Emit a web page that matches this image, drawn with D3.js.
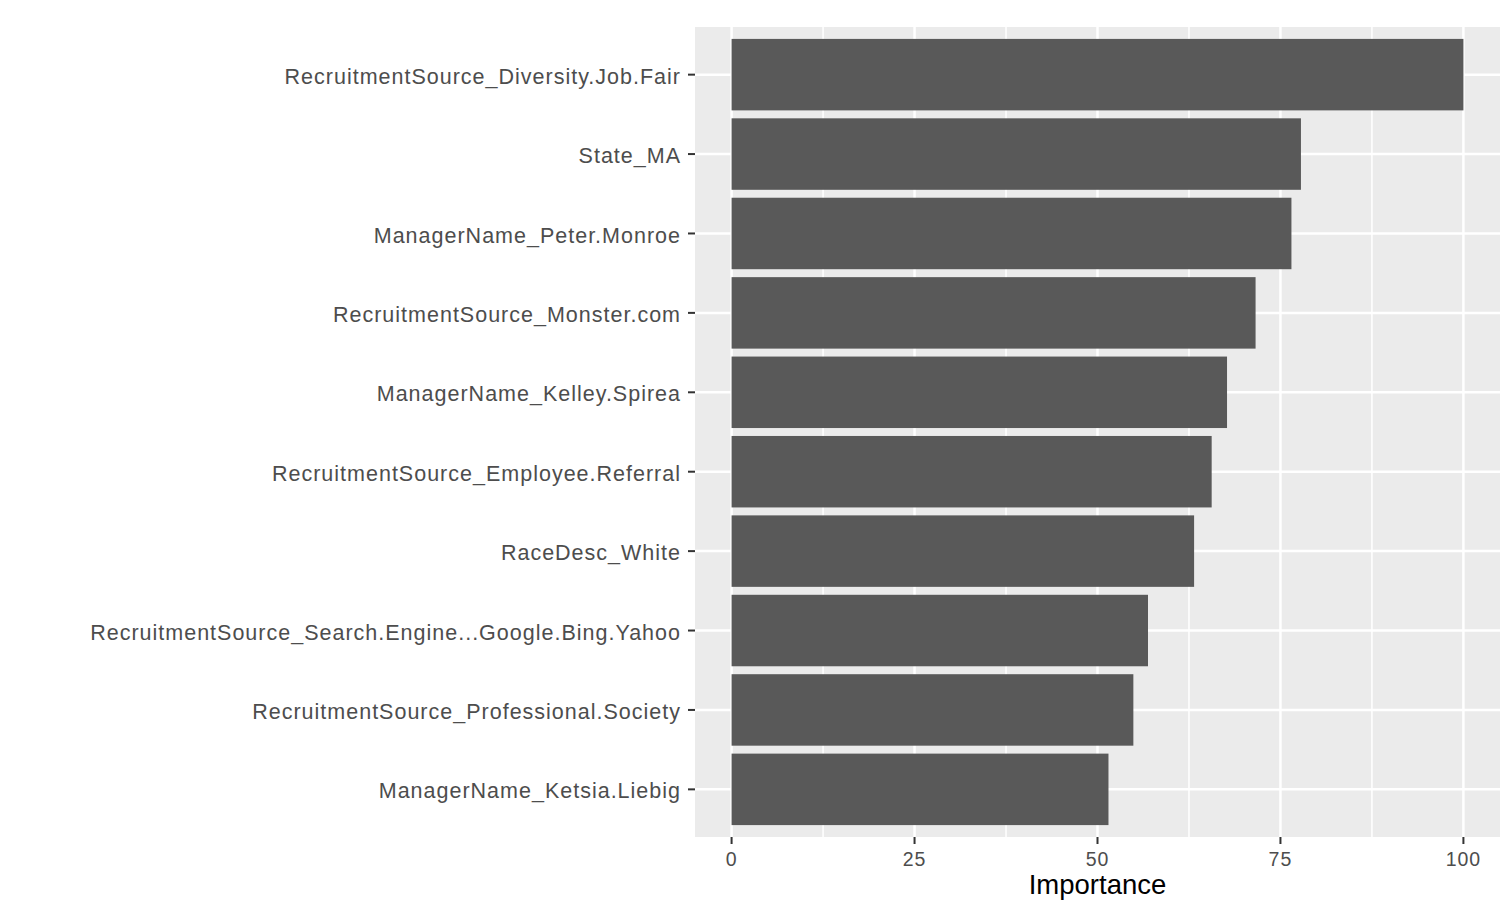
<!DOCTYPE html>
<html>
<head>
<meta charset="utf-8">
<script src="https://cdn.jsdelivr.net/npm/d3@7"></script>
<style>
  body { margin: 0; background: #fff; }
  svg text { font-family: "Liberation Sans", Arial, sans-serif; }
</style>
</head>
<body>
<svg id="chart" width="1512" height="911"></svg>
<script>
// features, top to bottom
var features = [
  "RecruitmentSource_Diversity.Job.Fair",
  "State_MA",
  "ManagerName_Peter.Monroe",
  "RecruitmentSource_Monster.com",
  "ManagerName_Kelley.Spirea",
  "RecruitmentSource_Employee.Referral",
  "RaceDesc_White",
  "RecruitmentSource_Search.Engine...Google.Bing.Yahoo",
  "RecruitmentSource_Professional.Society",
  "ManagerName_Ketsia.Liebig"
];
var importance = [100, 77.8, 76.5, 71.6, 67.7, 65.6, 63.2, 56.9, 54.9, 51.5];
var xTicks = [0, 25, 50, 75, 100];
var xMinor = [12.5, 37.5, 62.5, 87.5];

var margin = { top: 27, right: 12, bottom: 74, left: 695 };
var width = 1512 - margin.left - margin.right;
var height = 911 - margin.top - margin.bottom;

var svg = d3.select("#chart");
var g = svg.append("g").attr("transform", "translate(" + margin.left + "," + margin.top + ")");

// ggplot style expansion: 5% on the continuous axis
var x = d3.scaleLinear().domain([-5, 105]).range([0, width]);

// discrete axis: 0.6 units expand each side, bar width 0.9
var step = height / (features.length - 1 + 1.2);
var y = function(i) { return (0.6 + i) * step; };

g.append("rect").attr("width", width).attr("height", height).attr("fill", "#EBEBEB");

// minor grid
g.selectAll(".minor").data(xMinor).enter().append("line")
  .attr("x1", d => x(d)).attr("x2", d => x(d))
  .attr("y1", 0).attr("y2", height)
  .attr("stroke", "#fff").attr("stroke-width", 1.5);

// major grid
g.selectAll(".major").data(xTicks).enter().append("line")
  .attr("x1", d => x(d)).attr("x2", d => x(d))
  .attr("y1", 0).attr("y2", height)
  .attr("stroke", "#fff").attr("stroke-width", 2.5);

g.selectAll(".hgrid").data(features).enter().append("line")
  .attr("x1", 0).attr("x2", width)
  .attr("y1", (d, i) => y(i)).attr("y2", (d, i) => y(i))
  .attr("stroke", "#fff").attr("stroke-width", 2.5);

// bars
g.selectAll(".bar").data(features).enter().append("rect")
  .attr("x", x(0))
  .attr("y", (d, i) => y(i) - step * 0.45)
  .attr("width", (d, i) => x(importance[i]) - x(0))
  .attr("height", step * 0.9)
  .attr("fill", "#595959");

// x axis
var xAxis = g.append("g").attr("transform", "translate(0," + height + ")");
xAxis.selectAll(".tick").data(xTicks).enter().append("line")
  .attr("x1", d => x(d)).attr("x2", d => x(d))
  .attr("y1", 0).attr("y2", 7)
  .attr("stroke", "#333").attr("stroke-width", 2);
xAxis.selectAll(".lab").data(xTicks).enter().append("text")
  .attr("x", d => x(d)).attr("y", 29)
  .attr("text-anchor", "middle")
  .attr("fill", "#4D4D4D")
  .style("font-size", "19.5px")
  .style("letter-spacing", "1px")
  .text(d => d);

// y axis
g.selectAll(".ytick").data(features).enter().append("line")
  .attr("x1", -7).attr("x2", 0)
  .attr("y1", (d, i) => y(i)).attr("y2", (d, i) => y(i))
  .attr("stroke", "#333").attr("stroke-width", 2);
g.selectAll(".ylab").data(features).enter().append("text")
  .attr("x", -14).attr("y", (d, i) => y(i))
  .attr("dy", "0.42em")
  .attr("text-anchor", "end")
  .attr("fill", "#4D4D4D")
  .style("font-size", "21.5px")
  .style("letter-spacing", "1px")
  .text(d => d);

// axis title
g.append("text")
  .attr("x", width / 2).attr("y", height + 57)
  .attr("text-anchor", "middle")
  .attr("fill", "#000")
  .style("font-size", "27.5px")
  .text("Importance");
</script>
</body>
</html>
